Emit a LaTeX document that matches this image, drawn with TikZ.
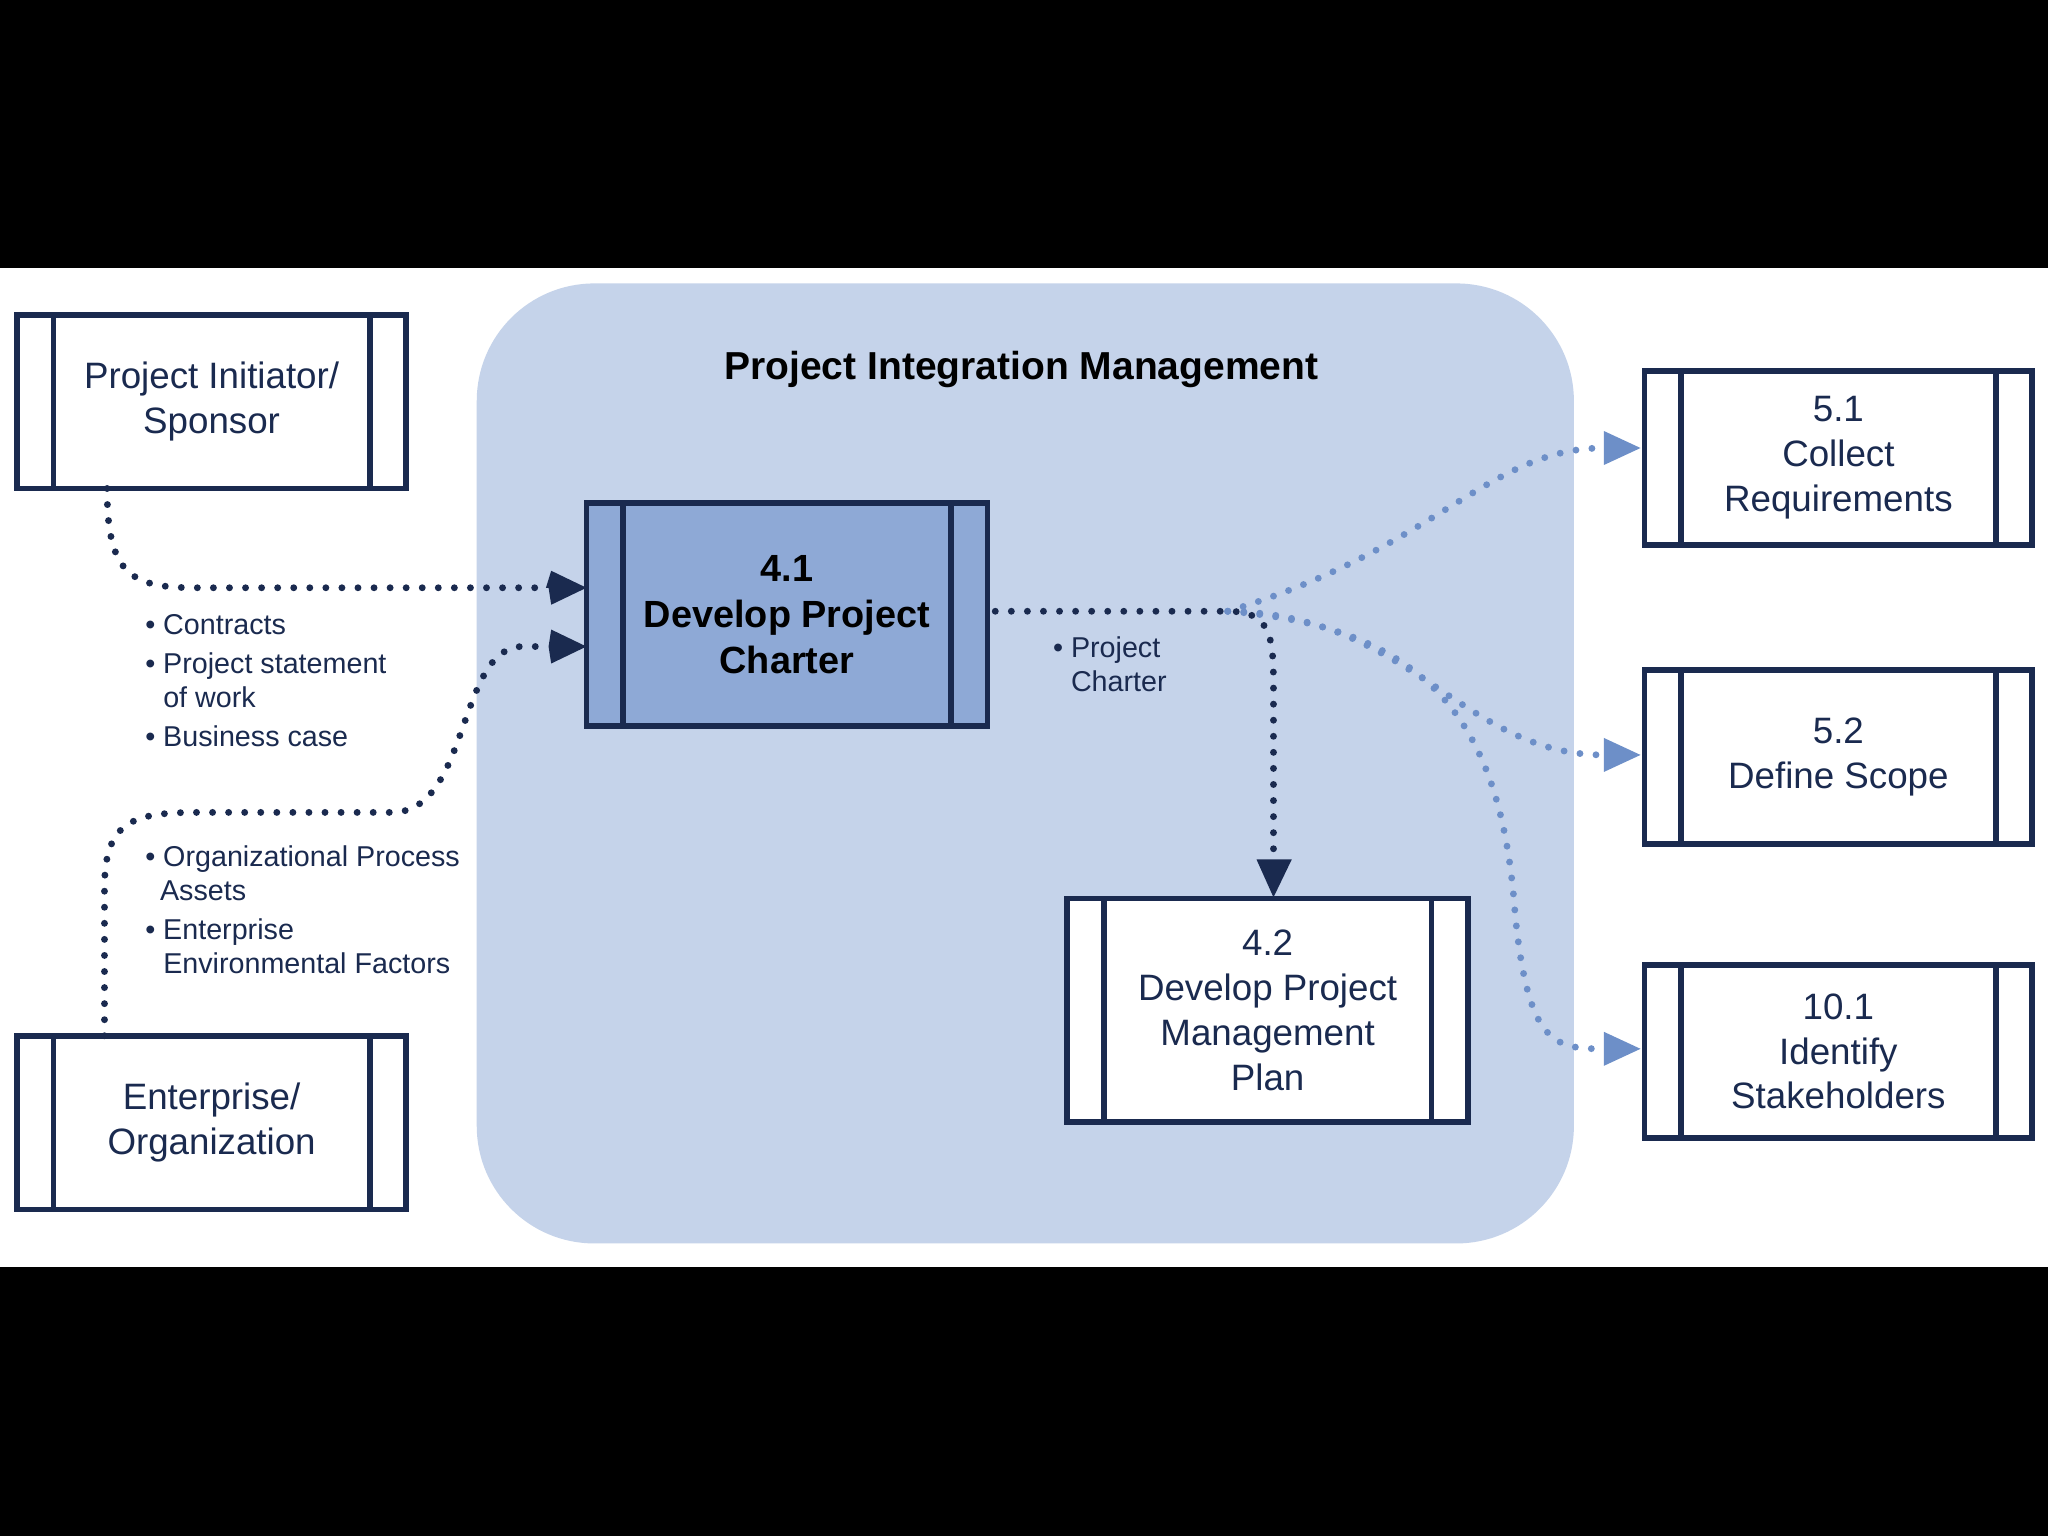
\documentclass[tikz,border=0pt]{standalone}
\usepackage{fontspec}
\setmainfont{Liberation Sans}
\usetikzlibrary{arrows.meta}
\definecolor{navy}{HTML}{1A2A4F}
\definecolor{region}{HTML}{C5D3EA}
\definecolor{charter}{HTML}{8EA9D6}
\definecolor{bluedot}{HTML}{6D8FC8}
\tikzset{
  px/.style={x=0.02cm,y=-0.02cm},
  proc/.style={draw=navy,line width=2.5pt,fill=white},
  dotk/.style={line width=3pt,line cap=round,dash pattern=on 0pt off 7pt,draw=navy},
  dotb/.style={line width=3pt,line cap=round,dash pattern=on 0pt off 7pt,draw=bluedot},
  boxtxt/.style={align=center,text=navy,font=\fontsize{16}{19.5}\selectfont},
  bul/.style={align=left,text=navy,font=\fontsize{12.5}{15}\selectfont,anchor=north west},
}
\newcommand{\procbox}[6]{% name, x1,y1,x2,y2, fill
  \draw[proc,fill=#6] (#2,#3) rectangle (#4,#5);
  \draw[navy,line width=2.5pt] ({#2+28},#3) -- ({#2+28},#5) ({#4-28},#3) -- ({#4-28},#5);
  \coordinate (#1) at ({(#2+#4)/2},{(#3+#5)/2});
}
\begin{document}
\begin{tikzpicture}[px]
\fill[black] (0,0) rectangle (1568,1176);
\fill[white] (0,205) rectangle (1568,970);
\useasboundingbox (0,0) rectangle (1568,1176);
\fill[region,rounded corners=1.8cm] (365,217) rectangle (1205,952);
\node[text=black,font=\bfseries\fontsize{17}{20}\selectfont] (title) at (782,283) {Project Integration Management};

\procbox{sp}{13}{241}{311}{374}{white}
\node[boxtxt] at (sp) {Project Initiator/\\Sponsor};
\procbox{ent}{13}{793}{311}{926}{white}
\node[boxtxt] at (ent) {Enterprise/\\Organization};
\procbox{c41}{449}{385}{756}{556}{charter}
\node[boxtxt,text=black,font=\bfseries\fontsize{16.5}{20}\selectfont] at (c41) {4.1\\Develop Project\\Charter};
\procbox{c42}{817}{688}{1124}{859}{white}
\node[boxtxt] at (c42) {4.2\\Develop Project\\Management\\Plan};
\procbox{c51}{1259}{284}{1556}{417}{white}
\node[boxtxt] at (c51) {5.1\\Collect\\Requirements};
\procbox{c52}{1259}{513}{1556}{646}{white}
\node[boxtxt] at (c52) {5.2\\Define Scope};
\procbox{c101}{1259}{739}{1556}{871}{white}
\node[boxtxt] at (c101) {10.1\\Identify\\Stakeholders};

\coordinate (spo) at (82,374);
\coordinate (ino) at (80,793);
\coordinate (a1) at (420,450);
\coordinate (a2) at (420,495);
\coordinate (hub) at (940,468);
\coordinate (d42) at (975,662);
\coordinate (e51) at (1228,343);
\coordinate (e52) at (1228,578);
\coordinate (e101) at (1228,803);

\draw[dotk] (spo) .. controls (82,440) and (100,450) .. (150,450) -- (a1);
\draw[dotk] (ino) -- (80,680) .. controls (80,630) and (100,622) .. (150,622) -- (300,622)
  .. controls (360,622) and (350,495) .. (400,495) -- (a2);
\draw[dotk] (762,468) -- (hub) .. controls (975,468) and (975,490) .. (975,530) -- (d42);
\draw[dotb] (hub) .. controls (1100,420) and (1140,343) .. (e51);
\draw[dotb] (hub) .. controls (1080,470) and (1120,578) .. (e52);
\draw[dotb] (hub) .. controls (1100,480) and (1150,560) .. (1160,700) .. controls (1170,800) and (1190,803) .. (e101);

\fill[navy] (a1) -- ++(-2,0) -- (422,437) -- (449,450) -- (422,463) -- cycle;
\fill[navy] (a2) -- (422,482) -- (449,495) -- (422,508) -- cycle;
\fill[navy] (962,658) -- (989,658) -- (975,687) -- cycle;
\fill[bluedot] (1228,330) -- (1256,343) -- (1228,356) -- cycle;
\fill[bluedot] (1228,565) -- (1256,578) -- (1228,591) -- cycle;
\fill[bluedot] (1228,790) -- (1256,803) -- (1228,816) -- cycle;

\node[bul] (b1) at (105,464) {\textbullet\ Contracts\\[2pt]\textbullet\ Project statement\\\phantom{\textbullet\ }of work\\[2pt]\textbullet\ Business case};
\node[bul] (b2) at (105,641) {\textbullet\ Organizational Process\\\phantom{\textbullet}\,Assets\\[2pt]\textbullet\ Enterprise\\\phantom{\textbullet\ }Environmental Factors};
\node[bul] (b3) at (800,481) {\textbullet\ Project\\\phantom{\textbullet\ }Charter};
\end{tikzpicture}
\end{document}
